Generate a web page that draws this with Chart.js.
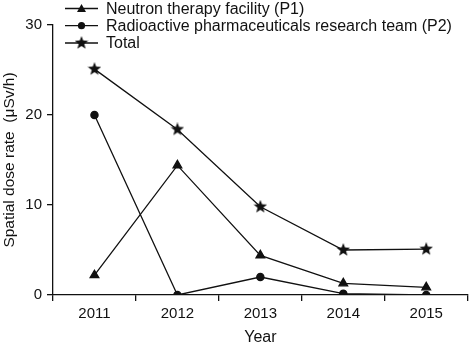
<!DOCTYPE html>
<html>
<head>
<meta charset="utf-8">
<script src="https://cdn.jsdelivr.net/npm/chart.js@4/dist/chart.umd.min.js"></script>
<style>
  html, body { margin: 0; padding: 0; background: #fff; }
  #wrap { width: 474px; height: 347px; }
</style>
</head>
<body>
<div id="wrap"><canvas id="myChart"></canvas></div>
<script>
const years = ['2011', '2012', '2013', '2014', '2015'];
const neutronP1 = [2.2, 14.4, 4.4, 1.3, 0.85];
const radioP2 = [20, 0, 2.0, 0.15, 0];
const total = [25.1, 18.4, 9.8, 5.0, 5.1];
const yTicks = [0, 10, 20, 30];

const ink = '#111';
const fontFam = '"Liberation Sans", Arial, sans-serif';

// filled five-pointed star, chart.js 'star' is only an asterisk
function makeStar(size) {
  const c = document.createElement('canvas');
  c.width = size; c.height = size;
  const g = c.getContext('2d');
  const cx = size / 2, cy = size / 2, ro = size / 2, ri = ro * 0.42;
  g.beginPath();
  for (let i = 0; i < 10; i++) {
    const r = i % 2 === 0 ? ro : ri;
    const a = -Math.PI / 2 + i * Math.PI / 5;
    g.lineTo(cx + r * Math.cos(a), cy + r * Math.sin(a));
  }
  g.closePath();
  g.fillStyle = ink;
  g.fill();
  return c;
}
const starImg = makeStar(14);

const legendPlugin = {
  id: 'topLegend',
  afterDraw(chart) {
    const c = chart.ctx;
    const rows = [8.5, 25.7, 43];
    c.save();
    c.font = '16px ' + fontFam;
    c.textBaseline = 'middle';
    chart.data.datasets.forEach((ds, i) => {
      const y = rows[i];
      c.strokeStyle = ink;
      c.lineWidth = 1.3;
      c.beginPath();
      c.moveTo(65, y);
      c.lineTo(98, y);
      c.stroke();
      c.fillStyle = ink;
      if (ds.pointStyle === 'triangle') {
        c.beginPath();
        c.moveTo(81.5, y - 4.5);
        c.lineTo(86, y + 3.5);
        c.lineTo(77, y + 3.5);
        c.closePath();
        c.fill();
      } else if (ds.pointStyle === 'circle') {
        c.beginPath();
        c.arc(81.5, y, 3.6, 0, Math.PI * 2);
        c.fill();
      } else {
        c.drawImage(starImg, 81.5 - 7, y - 7);
      }
      c.fillText(ds.label, 106, y + 1);
    });
    c.restore();
  }
};

new Chart(document.getElementById('myChart'), {
  type: 'line',
  data: {
    labels: years,
    datasets: [
      {
        label: 'Neutron therapy facility (P1)',
        data: neutronP1,
        pointStyle: 'triangle',
        pointRadius: 5,
        borderColor: ink,
        backgroundColor: ink,
        borderWidth: 1.3,
        tension: 0
      },
      {
        label: 'Radioactive pharmaceuticals research team (P2)',
        data: radioP2,
        pointStyle: 'circle',
        pointRadius: 3.6,
        borderColor: ink,
        backgroundColor: ink,
        borderWidth: 1.3,
        tension: 0
      },
      {
        label: 'Total',
        data: total,
        pointStyle: starImg,
        borderColor: ink,
        backgroundColor: ink,
        borderWidth: 1.3,
        tension: 0
      }
    ]
  },
  options: {
    responsive: true,
    maintainAspectRatio: false,
    animation: false,
    layout: { padding: { top: 25, right: 2, left: 0, bottom: 0 } },
    plugins: {
      legend: { display: false },
      tooltip: { enabled: false }
    },
    scales: {
      x: {
        offset: true,
        grid: { offset: true, drawOnChartArea: false, drawTicks: true, tickLength: 6, color: ink, lineWidth: 1.3 },
        border: { display: true, color: ink, width: 1.3 },
        ticks: { color: ink, font: { size: 15, family: fontFam }, padding: 4, maxRotation: 0 },
        title: { display: true, text: 'Year', color: ink, font: { size: 16, family: fontFam }, padding: { top: 4, bottom: 0 } },
        afterFit(scale) { scale.height = 52; }
      },
      y: {
        min: 0,
        max: 30,
        afterBuildTicks(scale) { scale.ticks = yTicks.map(v => ({ value: v })); },
        grid: { drawOnChartArea: false, drawTicks: true, tickLength: 6, color: ink, lineWidth: 1.3 },
        border: { display: true, color: ink, width: 1.3 },
        ticks: { color: ink, font: { size: 15, family: fontFam }, padding: 5 },
        title: { display: true, text: 'Spatial dose rate  (\u03bcSv/h)', color: ink, font: { size: 15.5, family: fontFam }, padding: { top: 0, bottom: 2 } },
        afterFit(scale) { scale.width = 53; }
      }
    }
  },
  plugins: [legendPlugin]
});
</script>
</body>
</html>
